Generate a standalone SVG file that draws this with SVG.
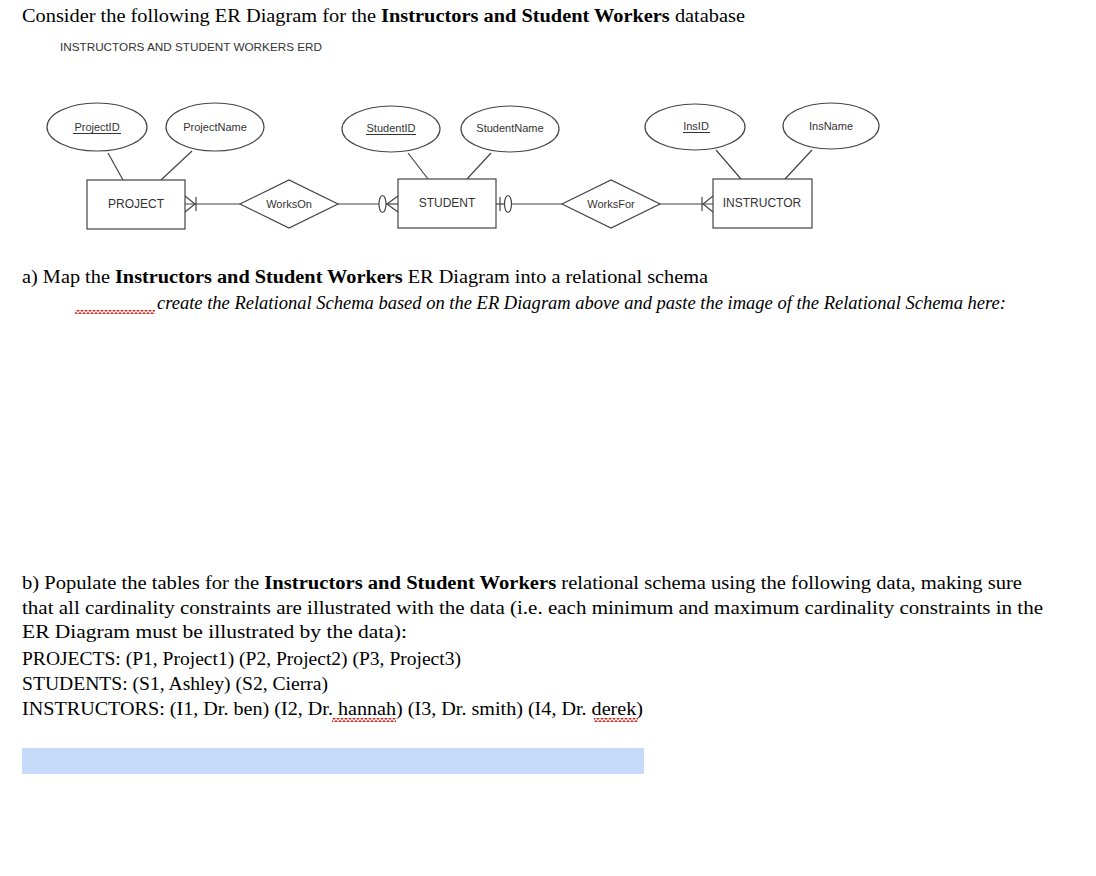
<svg xmlns="http://www.w3.org/2000/svg" width="1096" height="876" viewBox="0 0 1096 876">
<style>
.body{font-family:"Liberation Serif","Times New Roman",serif;font-size:18px;fill:#000}
.b{font-weight:bold}
.it{font-style:italic}
.lbl{font-family:"Liberation Sans",Arial,sans-serif;font-size:11px;fill:#333;text-anchor:middle;dominant-baseline:central}
.ent{font-family:"Liberation Sans",Arial,sans-serif;font-size:12px;fill:#333;text-anchor:middle;dominant-baseline:central}
.shape{fill:#fff;stroke:#444;stroke-width:1.2}
.ln{fill:none;stroke:#444;stroke-width:1.2}
.ul{stroke:#333;stroke-width:1}
</style>
<defs>
<pattern id="squig" x="0" y="0" width="4" height="4" patternUnits="userSpaceOnUse">
<polyline points="-1,0 0,0.8 2,3.2 4,0.8 5,0" fill="none" stroke="#e0201a" stroke-width="1.2"/>
</pattern>
</defs>
<rect width="1096" height="876" fill="#fff"/>

<text class="body" x="22" y="22" textLength="723" lengthAdjust="spacingAndGlyphs">Consider the following ER Diagram for the <tspan class="b">Instructors and Student Workers</tspan> database</text>
<text x="60" y="51" font-family="Liberation Sans,Arial,sans-serif" font-size="11" fill="#333" textLength="262" lengthAdjust="spacingAndGlyphs">INSTRUCTORS AND STUDENT WORKERS ERD</text>

<g id="connectors">
<line class="ln" x1="108" y1="153" x2="123" y2="180"/>
<line class="ln" x1="192" y1="151" x2="161" y2="180"/>
<line class="ln" x1="408" y1="153" x2="428" y2="179"/>
<line class="ln" x1="491" y1="153" x2="467" y2="179"/>
<line class="ln" x1="716" y1="150" x2="741" y2="179"/>
<line class="ln" x1="812" y1="150" x2="785" y2="179"/>
<line class="ln" x1="185" y1="204" x2="240" y2="204"/>
<polyline class="ln" points="185,196 195,204 185,212"/>
<line class="ln" x1="196" y1="197" x2="196" y2="211"/>
<line class="ln" x1="338" y1="204" x2="379" y2="204"/>
<line class="ln" x1="386" y1="204" x2="398" y2="204"/>
<ellipse class="ln" cx="382.5" cy="204" rx="3.5" ry="8.5"/>
<polyline class="ln" points="398,196 387,204 398,212"/>
<line class="ln" x1="496" y1="204" x2="504.5" y2="204"/>
<line class="ln" x1="511.5" y1="204" x2="562" y2="204"/>
<line class="ln" x1="500" y1="197" x2="500" y2="211"/>
<ellipse class="ln" cx="508" cy="204" rx="3.5" ry="8.5"/>
<line class="ln" x1="660" y1="204" x2="713" y2="204"/>
<line class="ln" x1="702" y1="197" x2="702" y2="211"/>
<polyline class="ln" points="713,196 703,204 713,212"/>
</g>

<g id="attr-projectid">
<ellipse class="shape" cx="97" cy="127" rx="50" ry="24"/>
<text class="lbl" x="97" y="127">ProjectID</text>
<line class="ul" x1="73" y1="133.5" x2="121" y2="133.5"/>
</g>
<g id="attr-projectname">
<ellipse class="shape" cx="215" cy="127" rx="49" ry="24"/>
<text class="lbl" x="215" y="127">ProjectName</text>
</g>
<g id="attr-studentid">
<ellipse class="shape" cx="391" cy="129" rx="49" ry="23"/>
<text class="lbl" x="391" y="128">StudentID</text>
<line class="ul" x1="366" y1="134.5" x2="416" y2="134.5"/>
</g>
<g id="attr-studentname">
<ellipse class="shape" cx="510" cy="129" rx="49" ry="23"/>
<text class="lbl" x="510" y="128">StudentName</text>
</g>
<g id="attr-insid">
<ellipse class="shape" cx="695" cy="127" rx="50" ry="23"/>
<text class="lbl" x="696" y="126">InsID</text>
<line class="ul" x1="683" y1="132.5" x2="710" y2="132.5"/>
</g>
<g id="attr-insname">
<ellipse class="shape" cx="831" cy="126" rx="48" ry="23"/>
<text class="lbl" x="831" y="126">InsName</text>
</g>

<g id="entity-project">
<rect class="shape" x="87" y="180" width="98" height="49"/>
<text class="ent" x="136" y="204">PROJECT</text>
</g>
<g id="rel-workson">
<polygon class="shape" points="240,204 289,180 338,204 289,228"/>
<text class="lbl" x="289" y="204">WorksOn</text>
</g>
<g id="entity-student">
<rect class="shape" x="398" y="179" width="98" height="49"/>
<text class="ent" x="447" y="203">STUDENT</text>
</g>
<g id="rel-worksfor">
<polygon class="shape" points="562,204 611,180 660,204 611,228"/>
<text class="lbl" x="611" y="204">WorksFor</text>
</g>
<g id="entity-instructor">
<rect class="shape" x="713" y="179" width="99" height="49"/>
<text class="ent" x="762" y="203">INSTRUCTOR</text>
</g>

<text class="body" x="22" y="283" textLength="686" lengthAdjust="spacingAndGlyphs">a) Map the <tspan class="b">Instructors and Student Workers</tspan> ER Diagram into a relational schema</text>
<rect x="75" y="310" width="80" height="4" fill="url(#squig)"/>
<text class="body it" x="157" y="309" textLength="849" lengthAdjust="spacingAndGlyphs">create the Relational Schema based on the ER Diagram above and paste the image of the Relational Schema here:</text>

<text class="body" x="22" y="589" textLength="1000" lengthAdjust="spacingAndGlyphs">b) Populate the tables for the <tspan class="b">Instructors and Student Workers</tspan> relational schema using the following data, making sure</text>
<text class="body" x="22" y="614" textLength="1021" lengthAdjust="spacingAndGlyphs">that all cardinality constraints are illustrated with the data (i.e. each minimum and maximum cardinality constraints in the</text>
<text class="body" x="22" y="638" textLength="385" lengthAdjust="spacingAndGlyphs">ER Diagram must be illustrated by the data):</text>
<text class="body" x="22" y="665" textLength="439" lengthAdjust="spacingAndGlyphs">PROJECTS: (P1, Project1) (P2, Project2) (P3, Project3)</text>
<text class="body" x="22" y="690" textLength="306" lengthAdjust="spacingAndGlyphs">STUDENTS: (S1, Ashley) (S2, Cierra)</text>
<text class="body" x="22" y="715" textLength="621" lengthAdjust="spacingAndGlyphs">INSTRUCTORS: (I1, Dr. ben) (I2, Dr. hannah) (I3, Dr. smith) (I4, Dr. derek)</text>
<rect x="332" y="718" width="64" height="4" fill="url(#squig)"/>
<rect x="594" y="718" width="44" height="4" fill="url(#squig)"/>

<rect x="22" y="748" width="622" height="26" fill="#c6dafa"/>
</svg>
